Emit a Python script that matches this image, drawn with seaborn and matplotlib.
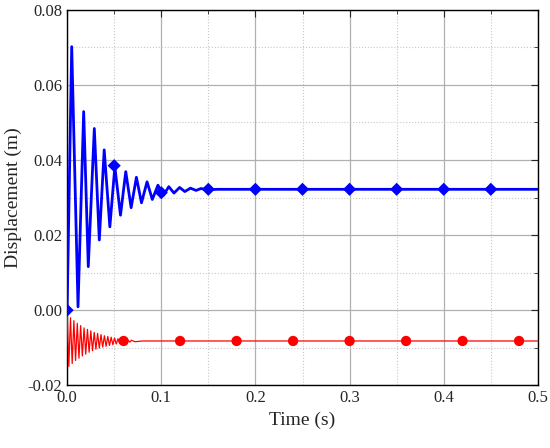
import numpy as np
import pandas as pd
import seaborn as sns
import matplotlib
matplotlib.use("Agg")
import matplotlib.pyplot as plt
from matplotlib.ticker import MultipleLocator

blue_t = [0, 0.0049, 0.0116, 0.0176, 0.0225, 0.0289, 0.0342, 0.0394, 0.0454, 0.0507, 0.0567,
          0.0623, 0.068, 0.0736, 0.079, 0.0849, 0.0905, 0.0965, 0.102, 0.108, 0.1135, 0.1195,
          0.125, 0.131, 0.137, 0.142, 0.15, 0.16, 0.5]
blue_v = [0, 0.0702, 0.0009, 0.0529, 0.0116, 0.0484, 0.0187, 0.0427, 0.0222, 0.0382, 0.0253,
          0.0369, 0.0273, 0.0354, 0.0286, 0.0342, 0.0295, 0.0333, 0.0305, 0.0329, 0.0312, 0.0327,
          0.0316, 0.0325, 0.0319, 0.0324, 0.0321, 0.0322, 0.0322]
red_t = [0, 0.0018, 0.0036, 0.0054, 0.0072, 0.0090, 0.0108, 0.0126, 0.0144, 0.0162, 0.0180,
         0.0198, 0.0216, 0.0234, 0.0252, 0.0270, 0.0288, 0.0306, 0.0324, 0.0342, 0.0360, 0.0378,
         0.0396, 0.0414, 0.0432, 0.0450, 0.0468, 0.0486, 0.0504, 0.0522, 0.0540, 0.0558, 0.0576,
         0.0594, 0.0612, 0.0630, 0.0648, 0.0666, 0.0684, 0.072, 0.08, 0.5]
red_v = [0, -0.0150, -0.0020, -0.0142, -0.0028, -0.0134, -0.0035, -0.0128, -0.0041, -0.0122, -0.0047,
         -0.0117, -0.0051, -0.0112, -0.0055, -0.0108, -0.0059, -0.0104, -0.0062, -0.0101, -0.0065, -0.0098,
         -0.0068, -0.0096, -0.0070, -0.0094, -0.0072, -0.0092, -0.0074, -0.0090, -0.0076, -0.0088, -0.0078,
         -0.0087, -0.0079, -0.0086, -0.0080, -0.0085, -0.0080, -0.0084, -0.0082, -0.0082]
blue_mt = [0, 0.05, 0.1, 0.15, 0.2, 0.25, 0.3, 0.35, 0.4, 0.45]
blue_mv = [0, 0.0385, 0.0313, 0.0322, 0.0322, 0.0322, 0.0322, 0.0322, 0.0322, 0.0322]
red_mt = [0.06, 0.12, 0.18, 0.24, 0.30, 0.36, 0.42, 0.48]
red_mv = [-0.0082] * 8

sns.set_style("white")
plt.rcParams['font.family'] = ['Liberation Serif', 'DejaVu Serif']
fig, ax = plt.subplots(figsize=(5.5, 4.48), dpi=100)

sns.lineplot(x=blue_t, y=blue_v, ax=ax, color="#0000ff", lw=2, zorder=3)
sns.lineplot(x=red_t, y=red_v, ax=ax, color="#ff0000", lw=0.9, zorder=3)
sns.scatterplot(x=blue_mt, y=blue_mv, ax=ax, color="#0000ff", marker="D", s=45, edgecolor="none", zorder=4)
sns.scatterplot(x=red_mt, y=red_mv, ax=ax, color="#ff0000", marker="o", s=55, edgecolor="none", zorder=4)

ax.set_xlim(0, 0.5)
ax.set_ylim(-0.02, 0.08)
ax.xaxis.set_major_locator(MultipleLocator(0.1))
ax.xaxis.set_minor_locator(MultipleLocator(0.05))
ax.yaxis.set_major_locator(MultipleLocator(0.02))
ax.yaxis.set_minor_locator(MultipleLocator(0.01))
ax.xaxis.set_major_formatter(matplotlib.ticker.FormatStrFormatter('%.1f'))
ax.yaxis.set_major_formatter(matplotlib.ticker.FormatStrFormatter('%.2f'))
ax.grid(which="major", color="#b0b0b0", lw=0.9, ls="-")
ax.grid(which="minor", color="#c8c8c8", lw=0.8, ls=":")
ax.tick_params(which="both", direction="in", top=True, right=True, labelsize=12)
ax.tick_params(which="major", length=5)
ax.tick_params(which="minor", length=3)
for s in ax.spines.values():
    s.set_color("black"); s.set_linewidth(1)
ax.set_xlabel("Time (s)", fontsize=14)
ax.set_ylabel("Displacement (m)", fontsize=14)
fig.subplots_adjust(left=0.122, right=0.978, bottom=0.14, top=0.978)
fig.savefig("out.png", dpi=100)
